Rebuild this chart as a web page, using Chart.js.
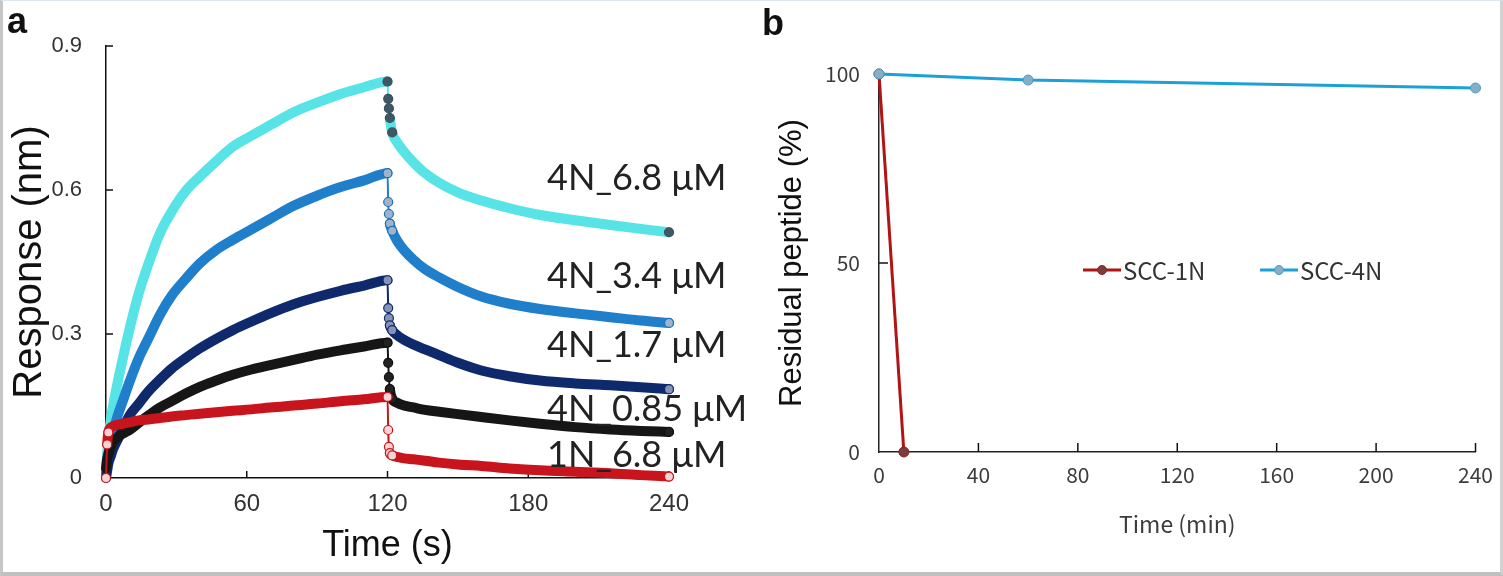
<!DOCTYPE html>
<html>
<head>
<meta charset="utf-8">
<script src="https://cdn.jsdelivr.net/npm/chart.js@4.4.1/dist/chart.umd.min.js"></script>
<style>
    html, body { margin: 0; padding: 0; background: #fff; }
    canvas { position: absolute; top: 0; }
    #chartA { left: 0; }
    #chartB { left: 760px; }
    #frame {
        position: absolute; left: 0; top: 0; width: 1503px; height: 576px;
        box-sizing: border-box; pointer-events: none;
        border-left: 3px solid #c6c6c6; border-right: 3px solid #d2d2d2;
        border-bottom: 4px solid #c0c0c0; border-top: 1px solid #dde7ef;
    }
</style>
</head>
<body>
<canvas id="chartA" width="760" height="576"></canvas>
<canvas id="chartB" width="743" height="576"></canvas>
<div id="frame"></div>
<script>
// ---- panel a: sensorgram (time in s, response in nm) ----
const timesA = [0, 0.5, 1, 2, 3, 5, 7, 10, 14, 18, 23, 28, 34, 40, 47, 54, 62, 70, 80, 90, 100, 110,
    120, 120.3, 120.6, 121, 122, 124, 127, 131, 136, 142, 150, 160, 172, 185, 200, 215, 228, 240];

const resp4N_68 = [0.02, 0.05, 0.08, 0.12, 0.15, 0.2, 0.245, 0.31, 0.385, 0.445, 0.51, 0.555, 0.598, 0.628, 0.66, 0.69, 0.713, 0.735, 0.762, 0.782, 0.8, 0.814,
    0.826, 0.79, 0.77, 0.75, 0.72, 0.7, 0.68, 0.658, 0.635, 0.615, 0.595, 0.578, 0.562, 0.548, 0.537, 0.527, 0.519, 0.512];
const resp4N_34 = [0.01, 0.03, 0.05, 0.075, 0.095, 0.13, 0.158, 0.2, 0.25, 0.29, 0.34, 0.38, 0.415, 0.447, 0.475, 0.496, 0.518, 0.54, 0.567, 0.588, 0.606, 0.62,
    0.635, 0.575, 0.55, 0.53, 0.515, 0.495, 0.475, 0.455, 0.435, 0.418, 0.398, 0.378, 0.363, 0.352, 0.343, 0.335, 0.328, 0.323];
const resp4N_17 = [0, 0.015, 0.03, 0.045, 0.06, 0.08, 0.1, 0.13, 0.155, 0.18, 0.205, 0.228, 0.25, 0.27, 0.29, 0.308, 0.326, 0.343, 0.362, 0.377, 0.39, 0.401,
    0.412, 0.354, 0.333, 0.318, 0.308, 0.298, 0.288, 0.278, 0.268, 0.256, 0.24, 0.224, 0.212, 0.203, 0.197, 0.193, 0.189, 0.185];
const resp4N_085 = [0.02, 0.04, 0.05, 0.065, 0.075, 0.085, 0.092, 0.1, 0.115, 0.13, 0.147, 0.16, 0.176, 0.19, 0.203, 0.215, 0.226, 0.235, 0.246, 0.257, 0.266, 0.274,
    0.282, 0.24, 0.21, 0.185, 0.165, 0.157, 0.151, 0.147, 0.142, 0.138, 0.133, 0.127, 0.12, 0.113, 0.106, 0.101, 0.098, 0.096];
const resp1N_68 = [0, 0.07, 0.095, 0.105, 0.108, 0.111, 0.113, 0.116, 0.12, 0.122, 0.125, 0.128, 0.131, 0.134, 0.137, 0.14, 0.143, 0.147, 0.151, 0.155, 0.16, 0.164,
    0.169, 0.1, 0.065, 0.052, 0.047, 0.044, 0.041, 0.039, 0.036, 0.032, 0.028, 0.025, 0.02, 0.016, 0.013, 0.01, 0.006, 0.003];

const labelsA = ['4N_6.8 μM', '4N_3.4 μM', '4N_1.7 μM', '4N_0.85 μM', '1N_6.8 μM'];
// where each label sits, in data units
const labelTimeA = 188;
const labelRespA = [0.625, 0.419, 0.277, 0.142, 0.048];

const ticksA_x = [0, 60, 120, 180, 240];
const ticksA_y = [0, 0.3, 0.6, 0.9];

// ---- panel b: stability (time in min, residual %) ----
const timeB_1N = [0, 10];
const resB_1N = [100, 0];
const timeB_4N = [0, 60, 240];
const resB_4N = [100, 98.4, 96.3];
const seriesB = ['SCC-1N', 'SCC-4N'];

function toPoints(xs, ys) {
    return xs.map((x, i) => ({ x: x, y: ys[i] }));
}

// tick marks pointing into the plot, as in the original figure
const innerTicks = {
    id: 'innerTicks',
    beforeDatasetsDraw(chart, args, opts) {
        const { ctx, chartArea, scales } = chart;
        ctx.save();
        ctx.strokeStyle = '#111';
        ctx.lineWidth = 1.5;
        scales.x.ticks.forEach(t => {
            if (t.value === scales.x.min) return;
            const px = scales.x.getPixelForValue(t.value);
            ctx.beginPath();
            ctx.moveTo(px, chartArea.bottom);
            ctx.lineTo(px, chartArea.bottom - opts.length);
            ctx.stroke();
        });
        scales.y.ticks.forEach(t => {
            if (t.value === scales.y.min) return;
            const py = scales.y.getPixelForValue(t.value);
            ctx.beginPath();
            ctx.moveTo(chartArea.left, py);
            ctx.lineTo(chartArea.left + opts.length, py);
            ctx.stroke();
        });
        ctx.restore();
    }
};

function panelLetter(letter, x, y) {
    return {
        id: 'panelLetter',
        afterDraw(chart) {
            const ctx = chart.ctx;
            ctx.save();
            ctx.font = 'bold 36px "Liberation Sans", Arial, sans-serif';
            ctx.fillStyle = '#111';
            ctx.textBaseline = 'alphabetic';
            ctx.fillText(letter, x, y);
            ctx.restore();
        }
    };
}

const curveLabels = {
    id: 'curveLabels',
    afterDatasetsDraw(chart) {
        const { ctx, scales } = chart;
        ctx.save();
        ctx.font = '36px Lato, "Open Sans", sans-serif';
        ctx.fillStyle = '#222';
        ctx.textBaseline = 'middle';
        labelsA.forEach((txt, i) => {
            ctx.fillText(txt, scales.x.getPixelForValue(labelTimeA), scales.y.getPixelForValue(labelRespA[i]));
        });
        ctx.restore();
    }
};

function sensorSet(values, color, markFill, markBorder, openStart) {
    return {
        data: toPoints(timesA, values),
        borderColor: color,
        backgroundColor: markFill,
        pointBorderColor: markBorder,
        pointBorderWidth: 1.2,
        borderWidth: 10,
        borderCapStyle: 'round',
        borderJoinStyle: 'round',
        cubicInterpolationMode: 'monotone',
        clip: false,
        pointRadius: ctx => {
            const t = ctx.raw.x;
            if ((t >= 120 && t <= 122) || t === 240) return 4.5;
            if (openStart && t <= 1) return 4.5;
            return 0;
        },
        segment: {
            borderWidth: ctx => {
                const a = ctx.p0.parsed.x, b = ctx.p1.parsed.x;
                if (a >= 120 && b <= 121) return 2;
                if (openStart && b <= 0.5) return 2;
                return undefined;
            }
        }
    };
}

const axisFontA = { family: '"Liberation Sans", Arial, sans-serif', size: 22 };

new Chart(document.getElementById('chartA'), {
    type: 'line',
    data: {
        datasets: [
            sensorSet(resp1N_68, '#c8141c', '#f6d4d4', '#c8141c', true),
            sensorSet(resp4N_085, '#161616', '#222', '#111', false),
            sensorSet(resp4N_17, '#0f2a6c', '#8594b4', '#0f2a6c', false),
            sensorSet(resp4N_34, '#1f7fcb', '#9db4cc', '#1f6fb4', false),
            sensorSet(resp4N_68, '#58e4e6', '#3f5866', '#3a4f5c', false)
        ]
    },
    options: {
        responsive: false,
        animation: false,
        layout: { padding: { left: 0, right: 91, top: 46, bottom: 0 } },
        plugins: {
            legend: { display: false },
            tooltip: { enabled: false },
            innerTicks: { length: 7 }
        },
        scales: {
            x: {
                type: 'linear', min: 0, max: 240,
                afterBuildTicks: s => { s.ticks = ticksA_x.map(v => ({ value: v })); },
                ticks: { font: { ...axisFontA, size: 24 }, color: '#333', padding: 12, maxRotation: 0 },
                grid: { display: false, drawTicks: false },
                border: { display: true, color: '#111', width: 1.5 },
                title: {
                    display: true, text: 'Time (s)', color: '#111',
                    font: { family: axisFontA.family, size: 36 },
                    padding: { top: 0, bottom: 8 }
                },
                afterFit: s => { s.height = 98; }
            },
            y: {
                min: 0, max: 0.9,
                afterBuildTicks: s => { s.ticks = ticksA_y.map(v => ({ value: v })); },
                ticks: {
                    font: axisFontA, color: '#333', padding: 24,
                    callback: v => v === 0 ? '0' : Number(v).toFixed(1)
                },
                grid: { display: false, drawTicks: false },
                border: { display: true, color: '#111', width: 1.5 },
                title: {
                    display: true, text: 'Response (nm)', color: '#111',
                    font: { family: axisFontA.family, size: 40 },
                    padding: { top: 6, bottom: 0 }
                },
                afterFit: s => { s.width = 106; }
            }
        }
    },
    plugins: [innerTicks, curveLabels, panelLetter('a', 7, 33)]
});

// ---- panel b ----
const fontB = '"Noto Sans CJK JP", "Noto Sans", sans-serif';

const legendB = {
    id: 'legendB',
    afterDraw(chart, args, opts) {
        const ctx = chart.ctx;
        ctx.save();
        ctx.font = '24px ' + fontB;
        ctx.fillStyle = '#333';
        ctx.textBaseline = 'middle';
        chart.data.datasets.forEach((ds, i) => {
            const x0 = opts.left + i * opts.gap, y = opts.top;
            ctx.strokeStyle = ds.borderColor;
            ctx.lineWidth = 3;
            ctx.beginPath();
            ctx.moveTo(x0, y);
            ctx.lineTo(x0 + 38, y);
            ctx.stroke();
            ctx.beginPath();
            ctx.arc(x0 + 19, y, 4.5, 0, Math.PI * 2);
            ctx.fillStyle = ds.pointBackgroundColor;
            ctx.fill();
            ctx.strokeStyle = ds.pointBorderColor;
            ctx.lineWidth = 1;
            ctx.stroke();
            ctx.fillStyle = '#333';
            ctx.fillText(ds.label, x0 + 40, y + 1);
        });
        ctx.restore();
    }
};

new Chart(document.getElementById('chartB'), {
    type: 'line',
    data: {
        datasets: [
            {
                label: seriesB[0], data: toPoints(timeB_1N, resB_1N), order: 1,
                borderColor: '#b01414', borderWidth: 3,
                pointRadius: 5, pointBackgroundColor: '#7a3c3c', pointBorderColor: '#8a2222', pointBorderWidth: 1,
                clip: false
            },
            {
                label: seriesB[1], data: toPoints(timeB_4N, resB_4N), order: 0,
                borderColor: '#1da0d6', borderWidth: 3,
                pointRadius: 5, pointBackgroundColor: '#86aec4', pointBorderColor: '#4a9cc2', pointBorderWidth: 1,
                clip: false
            }
        ]
    },
    options: {
        responsive: false,
        animation: false,
        layout: { padding: { left: 0, right: 27, top: 74, bottom: 0 } },
        plugins: {
            legend: { display: false },
            tooltip: { enabled: false },
            innerTicks: { length: 9 },
            legendB: { left: 323, top: 270, gap: 177 }
        },
        scales: {
            x: {
                type: 'linear', min: 0, max: 240,
                ticks: { stepSize: 40, font: { family: fontB, size: 21 }, color: '#3c3c3c', padding: 10, maxRotation: 0 },
                grid: { display: false, drawTicks: false },
                border: { display: true, color: '#222', width: 1.5 },
                title: {
                    display: true, text: 'Time (min)', color: '#3c3c3c',
                    font: { family: fontB, size: 23 },
                    padding: { top: 0, bottom: 38 }
                },
                afterFit: s => { s.height = 124; }
            },
            y: {
                min: 0, max: 100,
                ticks: { stepSize: 50, font: { family: fontB, size: 21 }, color: '#3c3c3c', padding: 19 },
                grid: { display: false, drawTicks: false },
                border: { display: true, color: '#222', width: 1.5 },
                title: {
                    display: true, text: 'Residual peptide (%)', color: '#111',
                    font: { family: '"Liberation Sans", Arial, sans-serif', size: 31 },
                    padding: { top: 14, bottom: 0 }
                },
                afterFit: s => { s.width = 119; }
            }
        }
    },
    plugins: [innerTicks, legendB, panelLetter('b', 2, 35)]
});
</script>
</body>
</html>
